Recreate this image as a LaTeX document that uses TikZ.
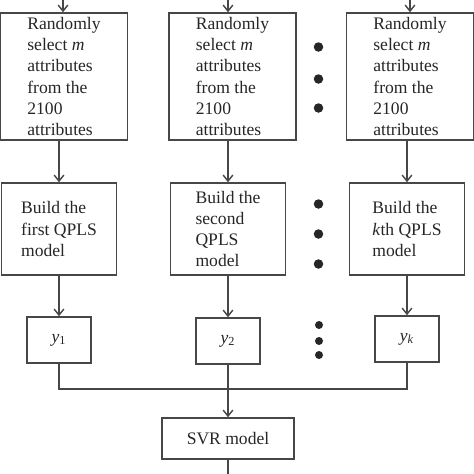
\documentclass[tikz,border=0pt]{standalone}
\usepackage{fontspec}
\setmainfont{Liberation Serif}
\usetikzlibrary{positioning, arrows.meta}
\definecolor{linegray}{HTML}{474747}
\tikzset{boxnode/.style={rectangle, draw=linegray, line width=0.8pt, align=left, text=black!85, font=\fontsize{10}{12}\selectfont, inner sep=1pt},
dotnode/.style={circle, fill=black!85, inner sep=0pt, minimum size=0.19cm},}

\begin{document}
\begin{tikzpicture}[x=0.02cm, y=-0.02cm, >={Straight Barb[length=3.5pt, width=5.5pt]}, color=linegray, line width=0.8pt]
\useasboundingbox (0,0) rectangle (474,474);
% attribute selection
\node [boxnode, minimum width=2.54cm, minimum height=2.54cm] (sel1) at (64,76.5) {Randomly\\select \textit{m}\\attributes\\from the\\2100\\attributes};
\node [boxnode, minimum width=2.54cm, minimum height=2.54cm] (sel2) at (232.5,76.5) {Randomly\\select \textit{m}\\attributes\\from the\\2100\\attributes};
\node [boxnode, minimum width=2.54cm, minimum height=2.54cm] (sel3) at (410,76.5) {Randomly\\select \textit{m}\\attributes\\from the\\2100\\attributes};
% QPLS models
\node [boxnode, minimum width=2.3cm, minimum height=1.84cm] (mod1) at (59,229) {Build the\\first QPLS\\model};
\node [boxnode, minimum width=2.3cm, minimum height=1.84cm] (mod2) at (228,229) {Build the\\second\\QPLS\\model};
\node [boxnode, minimum width=2.3cm, minimum height=1.84cm] (mod3) at (407,229) {Build the\\\textit{k}th QPLS\\model};
% outputs
\node [boxnode, minimum width=1.28cm, minimum height=0.92cm] (y1) at (59,340) {\textit{y}\textsubscript{1}};
\node [boxnode, minimum width=1.28cm, minimum height=0.92cm] (y2) at (228,341) {\textit{y}\textsubscript{2}};
\node [boxnode, minimum width=1.28cm, minimum height=0.92cm] (yk) at (407,339) {\textit{y}\textsubscript{\textit{k}}};
\node [boxnode, minimum width=2.64cm, minimum height=0.82cm] (svr) at (228,438.5) {SVR model};
% dots
\foreach \y [count=\i] in {47,79,108,204,234,264}
  \node [dotnode] (dot\i) at (318.5,\y) {};
\foreach \y [count=\i] in {325,341,355}
  \node [dotnode, minimum size=0.16cm] (sdot\i) at (319,\y) {};
% connectors
\coordinate (in1) at (63,0);
\coordinate (in2) at (228,0);
\coordinate (in3) at (410,0);
\coordinate (join) at (228,389);
\coordinate (out) at (228,474);
\draw[->] (in1) -- (in1 |- sel1.north);
\draw[->] (in2) -- (in2 |- sel2.north);
\draw[->] (in3) -- (in3 |- sel3.north);
\draw[->] (sel1.south -| mod1.north) -- (mod1.north);
\draw[->] (sel2.south -| mod2.north) -- (mod2.north);
\draw[->] (sel3.south -| mod3.north) -- (mod3.north);
\draw[->] (mod1) -- (y1);
\draw[->] (mod2) -- (y2);
\draw[->] (mod3) -- (yk);
\draw (y1.south) |- (yk.south |- join) -- (yk.south);
\draw[->] (y2.south) -- (svr.north);
\draw (svr.south) -- (out);
\end{tikzpicture}
\end{document}
